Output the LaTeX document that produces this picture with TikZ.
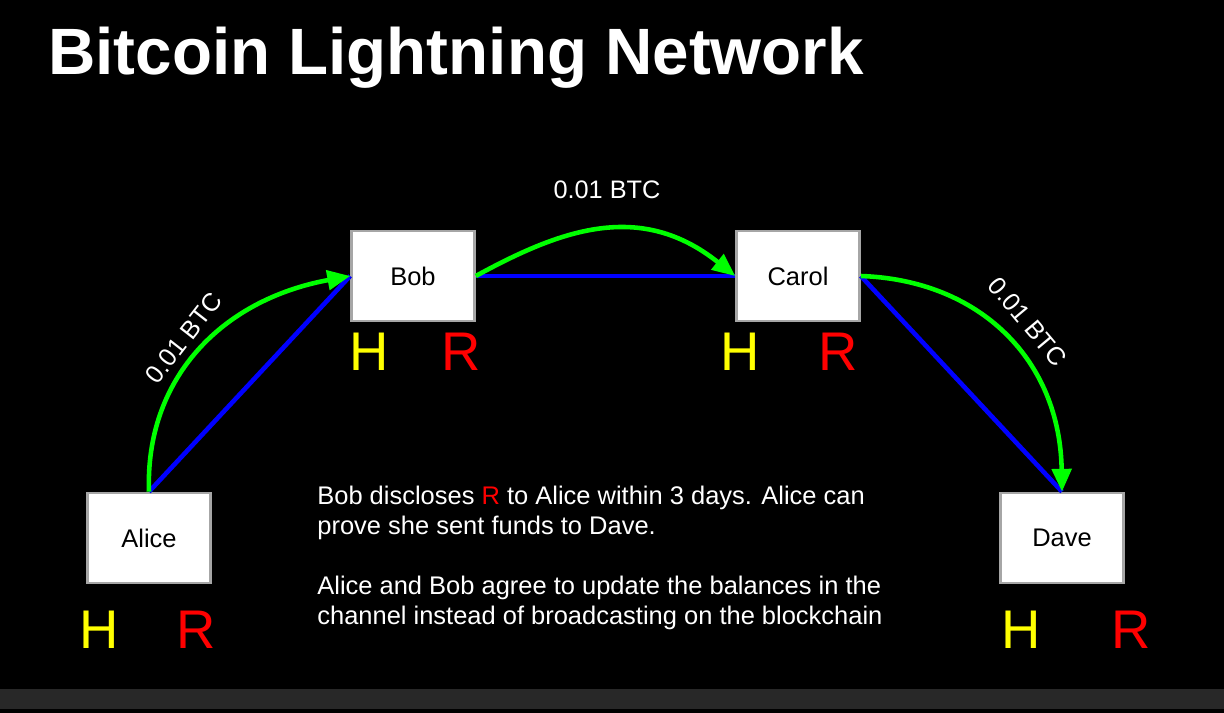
\documentclass[tikz,border=0pt]{standalone}
\usepackage{fontspec}
\setmainfont{Liberation Sans}
\usetikzlibrary{arrows.meta}
\definecolor{bar}{HTML}{282828}
\definecolor{hy}{HTML}{FFFF00}
\definecolor{rr}{HTML}{FF0000}
\definecolor{gg}{HTML}{00FF00}
\definecolor{bb}{HTML}{0000FF}
\begin{document}
\begin{tikzpicture}[x=0.02cm,y=-0.02cm,
  box/.style={draw=gray!70,line width=1.5pt,fill=white,minimum width=2.46cm,minimum height=1.8cm,inner sep=0pt,font=\fontsize{14.5}{17}\selectfont},
  hr/.style={font=\fontsize{31}{34}\selectfont},
  blu/.style={bb,line width=2.6pt},
  grn/.style={gg,line width=2.6pt,-{Triangle[length=13pt,width=11pt]}},
  lab/.style={white,font=\fontsize{14.4}{16}\selectfont}]
\fill[black] (0,0) rectangle (1224,713);
\fill[bar] (0,689) rectangle (1224,709);
\node[anchor=base west,white,font=\bfseries\fontsize{37.3}{42}\selectfont,inner sep=0pt] (title) at (48,75) {Bitcoin Lightning Network};
\node[box] (alice) at (149,538) {Alice};
\node[box] (bob) at (413,276) {Bob};
\node[box] (carol) at (798,276) {Carol};
\node[box] (dave) at (1062,538) {Dave};
\foreach \n/\hx/\rx/\yy in {ah/99/196/630, bh/369/461/352, ch/740/838/352, dh/1021/1131/630}{
  \node[hr,hy] (\n H) at (\hx,\yy) {H};
  \node[hr,rr] (\n R) at (\rx,\yy) {R};
}
\draw[blu] (alice.north) -- (bob.west);
\draw[blu] (bob.east) -- (carol.west);
\draw[blu] (carol.east) -- (dave.north);
\draw[grn] (alice.north) .. controls (145,380) and (220,300) .. (bob.west);
\draw[grn] (bob.east) .. controls (560,230) and (640,200) .. (carol.west);
\draw[grn] (carol.east) .. controls (980,280) and (1060,360) .. (dave.north);
\node[lab,rotate=52] (l1) at (184,338) {0.01 BTC};
\node[lab] (l2) at (607,190) {0.01 BTC};
\node[lab,rotate=-50] (l3) at (1028,322) {0.01 BTC};
\node[lab,anchor=north west,align=left,inner sep=0pt,font=\fontsize{14.5}{17}\selectfont] (txt) at (317,486)
{Bob discloses {\color{rr}R} to Alice within 3 days. Alice can\\prove she sent funds to Dave.\\[17pt]Alice and Bob agree to update the balances in the\\channel instead of broadcasting on the blockchain};
\end{tikzpicture}
\end{document}
